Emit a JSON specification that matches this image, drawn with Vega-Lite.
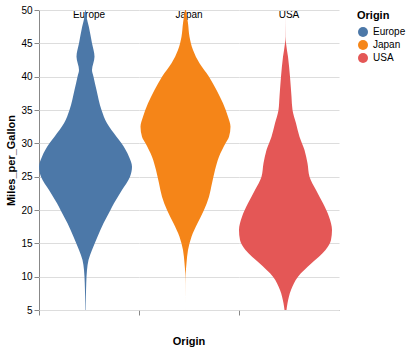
{
  "$schema": "https://vega.github.io/schema/vega-lite/v6.json",
  "data": {"values": [
    {"Origin": "Europe", "value": 5, "density": 0.0004},
    {"Origin": "Europe", "value": 7, "density": 0.0008},
    {"Origin": "Europe", "value": 9, "density": 0.0015},
    {"Origin": "Europe", "value": 11, "density": 0.003},
    {"Origin": "Europe", "value": 12.5, "density": 0.006},
    {"Origin": "Europe", "value": 14, "density": 0.013},
    {"Origin": "Europe", "value": 16, "density": 0.024},
    {"Origin": "Europe", "value": 18, "density": 0.036},
    {"Origin": "Europe", "value": 20, "density": 0.05},
    {"Origin": "Europe", "value": 21, "density": 0.057},
    {"Origin": "Europe", "value": 23, "density": 0.073},
    {"Origin": "Europe", "value": 25, "density": 0.089},
    {"Origin": "Europe", "value": 26.5, "density": 0.093},
    {"Origin": "Europe", "value": 28, "density": 0.087},
    {"Origin": "Europe", "value": 30, "density": 0.072},
    {"Origin": "Europe", "value": 31, "density": 0.062},
    {"Origin": "Europe", "value": 33, "density": 0.043},
    {"Origin": "Europe", "value": 35, "density": 0.032},
    {"Origin": "Europe", "value": 38, "density": 0.022},
    {"Origin": "Europe", "value": 40, "density": 0.016},
    {"Origin": "Europe", "value": 41, "density": 0.013},
    {"Origin": "Europe", "value": 43, "density": 0.018},
    {"Origin": "Europe", "value": 45, "density": 0.013},
    {"Origin": "Europe", "value": 47.5, "density": 0.0067},
    {"Origin": "Europe", "value": 49, "density": 0.002},
    {"Origin": "Europe", "value": 50, "density": 0.0005},
    {"Origin": "Japan", "value": 5, "density": 0},
    {"Origin": "Japan", "value": 9, "density": 0.0001},
    {"Origin": "Japan", "value": 10.5, "density": 0.0005},
    {"Origin": "Japan", "value": 12, "density": 0.002},
    {"Origin": "Japan", "value": 14, "density": 0.005},
    {"Origin": "Japan", "value": 16, "density": 0.012},
    {"Origin": "Japan", "value": 18, "density": 0.024},
    {"Origin": "Japan", "value": 20, "density": 0.037},
    {"Origin": "Japan", "value": 22, "density": 0.047},
    {"Origin": "Japan", "value": 24, "density": 0.053},
    {"Origin": "Japan", "value": 26, "density": 0.059},
    {"Origin": "Japan", "value": 28, "density": 0.067},
    {"Origin": "Japan", "value": 30, "density": 0.08},
    {"Origin": "Japan", "value": 31, "density": 0.087},
    {"Origin": "Japan", "value": 32.5, "density": 0.09},
    {"Origin": "Japan", "value": 34, "density": 0.085},
    {"Origin": "Japan", "value": 36, "density": 0.075},
    {"Origin": "Japan", "value": 38, "density": 0.062},
    {"Origin": "Japan", "value": 40, "density": 0.047},
    {"Origin": "Japan", "value": 42, "density": 0.028},
    {"Origin": "Japan", "value": 44, "density": 0.015},
    {"Origin": "Japan", "value": 46, "density": 0.008},
    {"Origin": "Japan", "value": 48, "density": 0.005},
    {"Origin": "Japan", "value": 50, "density": 0.001},
    {"Origin": "USA", "value": 5, "density": 0.002},
    {"Origin": "USA", "value": 6, "density": 0.004},
    {"Origin": "USA", "value": 8, "density": 0.011},
    {"Origin": "USA", "value": 10, "density": 0.025},
    {"Origin": "USA", "value": 12, "density": 0.052},
    {"Origin": "USA", "value": 14, "density": 0.08},
    {"Origin": "USA", "value": 15.5, "density": 0.091},
    {"Origin": "USA", "value": 17, "density": 0.093},
    {"Origin": "USA", "value": 19, "density": 0.087},
    {"Origin": "USA", "value": 21, "density": 0.075},
    {"Origin": "USA", "value": 23, "density": 0.061},
    {"Origin": "USA", "value": 25, "density": 0.048},
    {"Origin": "USA", "value": 27, "density": 0.044},
    {"Origin": "USA", "value": 29, "density": 0.038},
    {"Origin": "USA", "value": 31, "density": 0.028},
    {"Origin": "USA", "value": 33, "density": 0.021},
    {"Origin": "USA", "value": 35, "density": 0.014},
    {"Origin": "USA", "value": 37, "density": 0.012},
    {"Origin": "USA", "value": 40, "density": 0.009},
    {"Origin": "USA", "value": 43, "density": 0.005},
    {"Origin": "USA", "value": 45, "density": 0.001},
    {"Origin": "USA", "value": 46, "density": 0.0002},
    {"Origin": "USA", "value": 50, "density": 0}
  ]},
  "mark": {"type": "area", "orient": "horizontal", "interpolate": "monotone"},
  "encoding": {
    "y": {"field": "value", "type": "quantitative", "title": "Miles_per_Gallon", "scale": {"domain": [5, 50]}},
    "color": {"field": "Origin", "type": "nominal"},
    "x": {"field": "density", "type": "quantitative", "stack": "center", "impute": null, "title": null,
          "axis": {"labels": false, "values": [0], "grid": false, "ticks": true}},
    "column": {"field": "Origin", "type": "nominal", "spacing": 0,
               "header": {"titleOrient": "bottom", "labelOrient": "bottom", "labelPadding": -306}}
  },
  "width": 100,
  "height": 300,
  "config": {"view": {"stroke": null}}
}
